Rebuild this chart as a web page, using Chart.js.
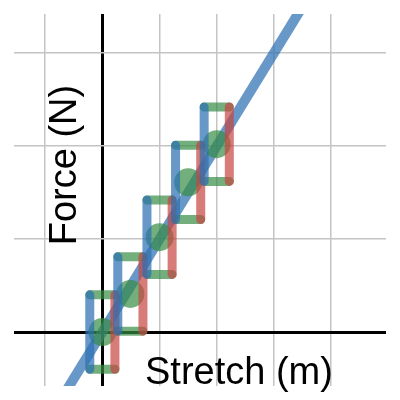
<!DOCTYPE html>
<html><head><meta charset="utf-8">
<script src="https://cdn.jsdelivr.net/npm/chart.js@4"></script>
<style>html,body{margin:0;padding:0;background:#fff}#w{width:400px;height:400px}</style>
</head><body><div id="w"><canvas id="c"></canvas></div>
<script>
const stretch = [0, 0.49, 1.0, 1.5, 2.0];
const force = [0, 0.41, 1.02, 1.61, 2.02];
const errStretch = 0.22;
const errForce = 0.4;
const fitX = [-1.7, 5];
const fitY = [-1.7, 5];
const xTicks = [-1, 0, 1, 2, 3, 4];
const yTicks = [0, 1, 2, 3];

const blue='rgba(45,112,179,0.72)', red='rgba(199,68,64,0.7)', green='rgba(56,140,70,0.7)';
function segs(fn){const d=[];stretch.forEach((x,i)=>{d.push(...fn(x,force[i]));d.push({x:NaN,y:null});});return d;}
const blueD=segs((x,y)=>[{x:x-errStretch,y:y-errForce},{x:x-errStretch,y:y+errForce}]);
const redD=segs((x,y)=>[{x:x+errStretch,y:y-errForce},{x:x+errStretch,y:y+errForce}]);
const greenD=segs((x,y)=>[{x:x-errStretch,y:y+errForce},{x:x+errStretch,y:y+errForce},{x:NaN,y:null},{x:x-errStretch,y:y-errForce},{x:x+errStretch,y:y-errForce}]);
const seg=(data,color)=>({type:'line',data,borderColor:color,borderWidth:9,borderCapStyle:'round',pointRadius:0,spanGaps:false,fill:false});
const labels={id:'labels',afterDraw(ch){const c=ch.ctx;c.save();c.fillStyle='#000';c.font='38px "Liberation Sans", Arial, sans-serif';
c.textBaseline='alphabetic';c.fillText('Stretch (m)',145,384);
c.translate(76,165);c.rotate(-Math.PI/2);c.textAlign='center';c.fillText('Force (N)',0,0);c.restore();}};
const zf=s=>{s.width=s.width&&s.isHorizontal()?s.width:0;if(s.isHorizontal())s.height=0;else s.width=0;s.paddingLeft=s.paddingRight=s.paddingTop=s.paddingBottom=0;};
const gridOpt={drawTicks:false,tickLength:0,color:c=>c.tick&&c.tick.value===0?'#000':'#c4c4c4',lineWidth:c=>c.tick&&c.tick.value===0?3:1.5};
new Chart(document.getElementById('c'),{
 type:'scatter',
 data:{datasets:[
  seg(blueD,blue),seg(redD,red),seg(greenD,green),
  {type:'scatter',data:stretch.map((x,i)=>({x,y:force[i]})),pointRadius:14,pointHoverRadius:14,backgroundColor:green,borderWidth:0},
  {type:'line',data:fitX.map((x,i)=>({x,y:fitY[i]})),borderColor:'rgba(45,112,179,0.72)',borderWidth:10,pointRadius:0,fill:false}
 ]},
 options:{animation:false,responsive:true,maintainAspectRatio:false,layout:{padding:0},
  plugins:{legend:{display:false},tooltip:{enabled:false}},
  scales:{
   x:{type:'linear',min:-1.545,max:4.96,afterFit:zf,afterBuildTicks:s=>{s.ticks=xTicks.map(v=>({value:v}));},ticks:{display:false,padding:0},border:{display:false},grid:gridOpt},
   y:{type:'linear',min:-0.58,max:3.42,afterFit:zf,afterBuildTicks:s=>{s.ticks=yTicks.map(v=>({value:v}));},ticks:{display:false,padding:0},border:{display:false},grid:gridOpt}
  }},
 plugins:[labels]
});
</script></body></html>
